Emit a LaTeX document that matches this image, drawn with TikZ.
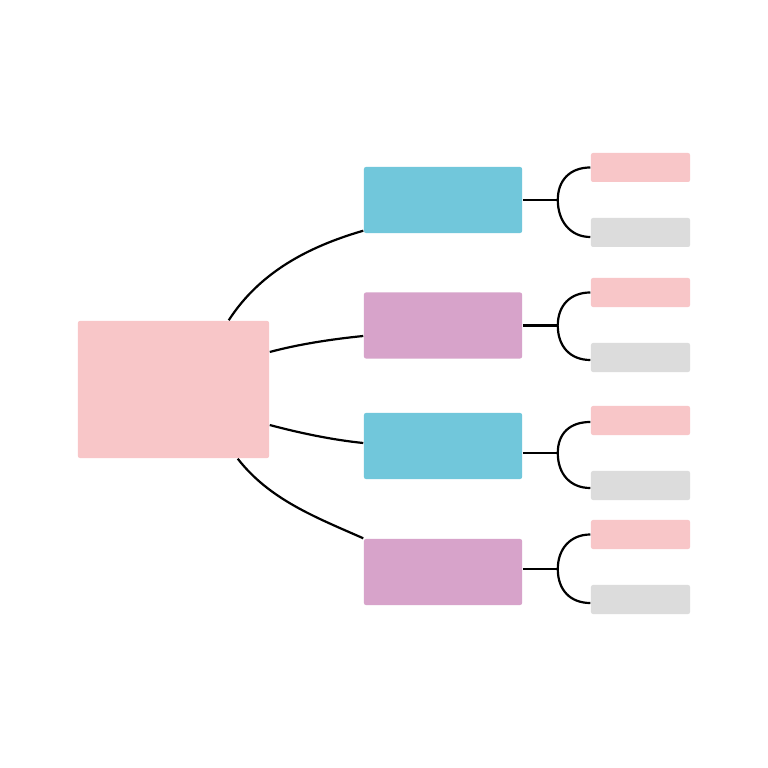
\documentclass[tikz,border=0pt]{standalone}
\definecolor{cblue}{HTML}{71C7DB}
\definecolor{cpurple}{HTML}{D7A3CA}
\definecolor{cpink}{HTML}{F8C6C8}
\definecolor{cgray}{HTML}{DCDCDC}
\begin{document}
\begin{tikzpicture}[x=0.01cm,y=-0.01cm,
  box/.style={draw=none,inner sep=0pt,rounded corners=0.02cm},
  mainbox/.style={box,fill=cpink,minimum width=1.91cm,minimum height=1.37cm},
  midbox/.style={box,minimum width=1.58cm,minimum height=0.66cm},
  leafpink/.style={box,fill=cpink,minimum width=0.99cm,minimum height=0.29cm},
  leafgray/.style={box,fill=cgray,minimum width=0.99cm,minimum height=0.29cm},
  link/.style={draw=black,line width=0.022cm}]
\fill[white] (0,0) rectangle (768,768);
\useasboundingbox (0,0) rectangle (768,768);

\node[mainbox] (main) at (173.5,389.5) {};

\node[midbox,fill=cblue] (b1) at (443,200) {};
\node[midbox,fill=cpurple] (b2) at (443,325.5) {};
\node[midbox,fill=cblue] (b3) at (443,446) {};
\node[midbox,fill=cpurple] (b4) at (443,572) {};

\node[leafpink] (p1) at (640.5,167.5) {};
\node[leafgray] (g1) at (640.5,232.5) {};
\node[leafpink] (p2) at (640.5,292.5) {};
\node[leafgray] (g2) at (640.5,357.5) {};
\node[leafpink] (p3) at (640.5,420.5) {};
\node[leafgray] (g3) at (640.5,485.5) {};
\node[leafpink] (p4) at (640.5,534.5) {};
\node[leafgray] (g4) at (640.5,599.5) {};

% main connectors
\draw[link] ([xshift=-0.41cm]main.north east) .. controls +(0.31cm,0.48cm) and +(-0.55cm,-0.16cm) .. ([yshift=0.03cm]b1.south west);
\draw[link] ([yshift=0.375cm]main.east) .. controls +(0.3cm,0.08cm) and +(-0.3cm,-0.03cm) .. ([yshift=-0.105cm]b2.west);
\draw[link] ([yshift=-0.355cm]main.east) .. controls +(0.3cm,-0.08cm) and +(-0.3cm,0.03cm) .. ([yshift=0.03cm]b3.west);
\draw[link] ([xshift=-0.32cm]main.south east) .. controls +(0.32cm,-0.41cm) and +(-0.475cm,0.21cm) .. (b4.north west);

% junctions: index / junction shift / pink-end shift / gray-end shift
\foreach \i/\js/\ps/\gs in {1/0/0/-0.045, 2/0/0/-0.025, 3/-0.07/-0.015/-0.025, 4/0.03/0/-0.035}{
  \coordinate (j\i) at ([xshift=0.35cm,yshift=\js cm]b\i.east);
  \draw[link] ([yshift=\js cm]b\i.east) -- (j\i);
  \draw[link] (j\i) .. controls +(0cm,0.2cm) and +(-0.2cm,0cm) .. ([yshift=\ps cm]p\i.west);
  \draw[link] (j\i) .. controls +(0cm,-0.21cm) and +(-0.2cm,0cm) .. ([yshift=\gs cm]g\i.west);
}
\end{tikzpicture}
\end{document}
